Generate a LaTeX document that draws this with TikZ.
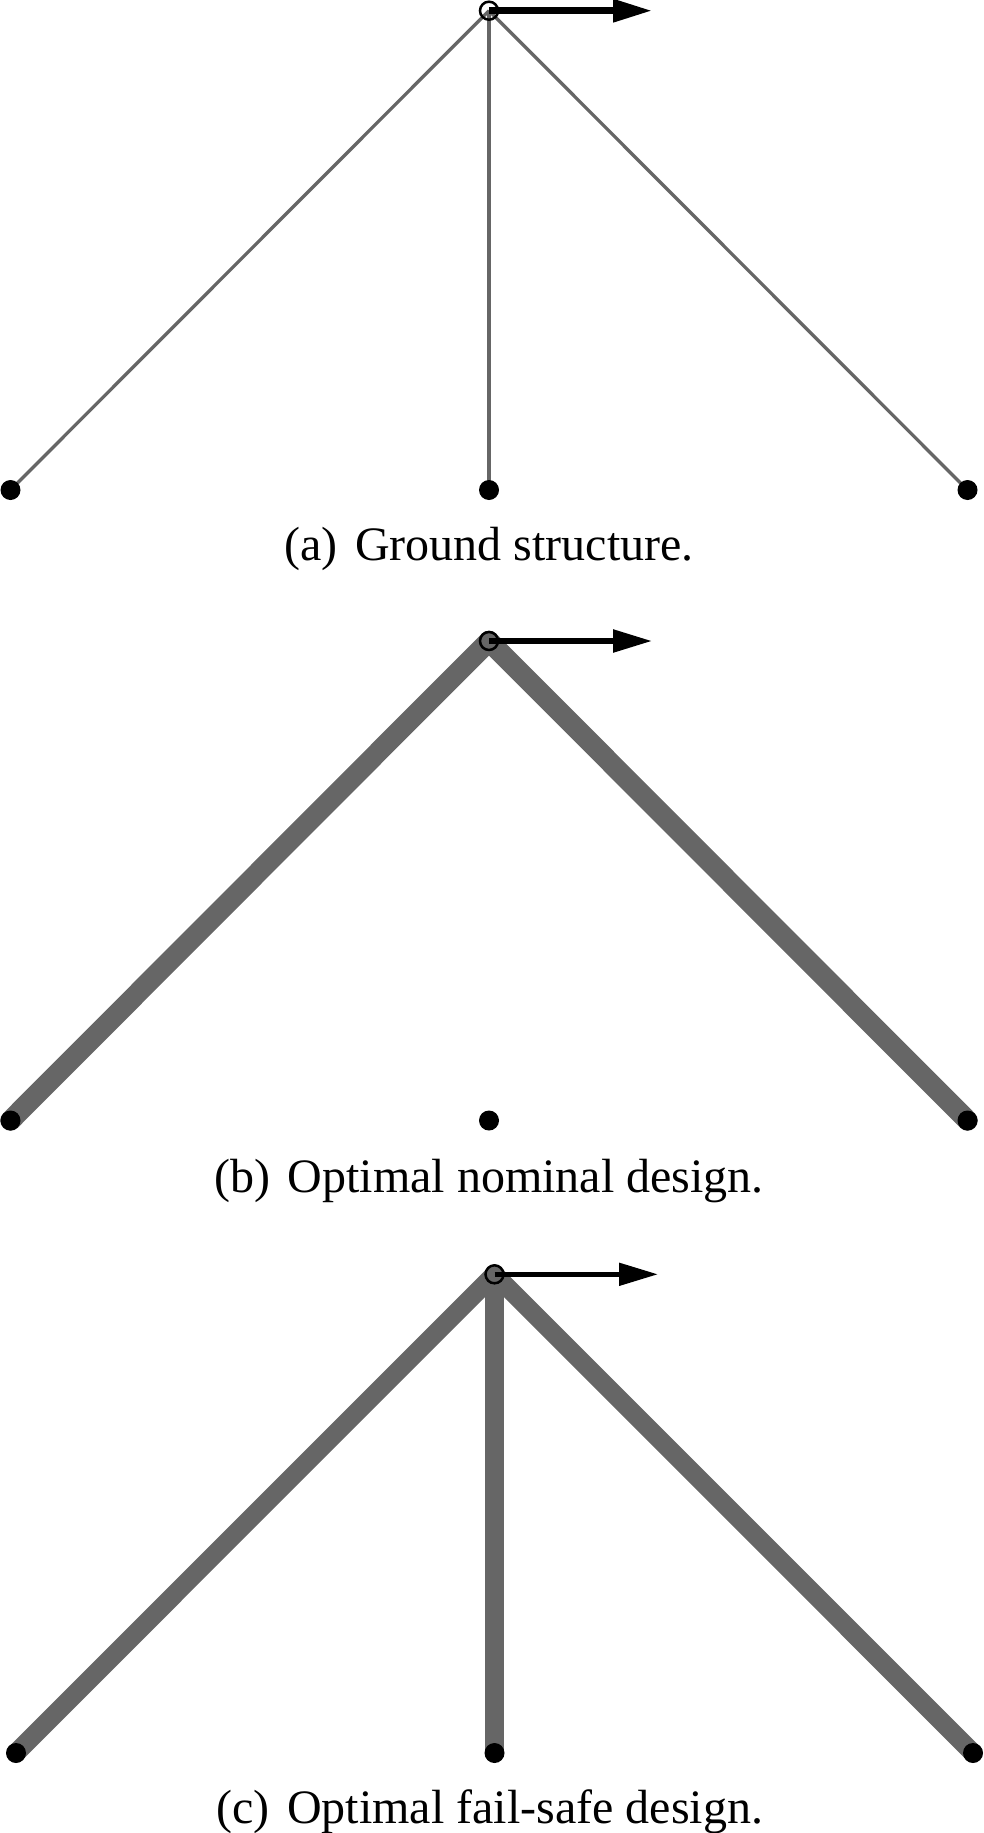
\documentclass[tikz,border=0pt]{standalone}
\usepackage{fontspec}
\setmainfont{Liberation Serif}
\usetikzlibrary{arrows.meta}
\definecolor{bargrey}{HTML}{666666}
\tikzset{
  thinbar/.style={draw=bargrey,line width=3.3pt},
  thickbarb/.style={draw=bargrey,line width=20.5pt,line cap=round},
  thickbarc/.style={draw=bargrey,line width=18.8pt,line cap=round},
  support/.style={circle,fill=black,inner sep=0pt,minimum size=20pt},
  hub/.style={circle,draw=black,line width=2.5pt,inner sep=0pt,minimum size=18pt},
  loadarrow/.style={draw=black,line width=#1,-{Triangle[length=39pt,width=22pt]}},
  captiontext/.style={anchor=base west,inner sep=0pt,font=\fontsize{48}{55}\selectfont}
}
\begin{document}
\begin{tikzpicture}[x=1pt,y=-1pt]
\useasboundingbox (0,0) rectangle (984,1833);
% panel a
\coordinate (aload) at (652,10.7);
\coordinate (a0) at (489,10.7);
\coordinate (a1) at (10.5,490);
\coordinate (a2) at (489,490);
\coordinate (a3) at (967.5,490);
\draw[thinbar] (a0) -- (a1);
\draw[thinbar] (a0) -- (a2);
\draw[thinbar] (a0) -- (a3);
\node[support] (an1) at (a1) {};
\node[support] (an2) at (a2) {};
\node[support] (an3) at (a3) {};
\draw[loadarrow=6.5pt] (a0) -- (aload);
\node[hub] (an0) at (a0) {};
\node[captiontext] (acap) at (284,560) {(a)\hspace{0.37em}Ground structure.};
% panel b
\coordinate (bload) at (652,641);
\coordinate (b0) at (489,641);
\coordinate (b1) at (10.5,1120.5);
\coordinate (b2) at (489,1120.5);
\coordinate (b3) at (967.5,1120.5);
\draw[thickbarb] (b0) -- (b1);
\draw[thickbarb] (b0) -- (b3);
\node[support] (bn1) at (b1) {};
\node[support] (bn2) at (b2) {};
\node[support] (bn3) at (b3) {};
\draw[loadarrow=5.5pt] (b0) -- (bload);
\node[hub] (bn0) at (b0) {};
\node[captiontext] (bcap) at (214,1192) {(b)\hspace{0.37em}Optimal nominal design.};
% panel c
\coordinate (cload) at (658,1274.3);
\coordinate (c0) at (494.5,1274.3);
\coordinate (c1) at (16,1753);
\coordinate (c2) at (494.5,1753);
\coordinate (c3) at (973,1753);
\draw[thickbarc] (c0) -- (c1);
\draw[thickbarc] (c0) -- (c2);
\draw[thickbarc] (c0) -- (c3);
\node[support] (cn1) at (c1) {};
\node[support] (cn2) at (c2) {};
\node[support] (cn3) at (c3) {};
\draw[loadarrow=5pt] (c0) -- (cload);
\node[hub] (cn0) at (c0) {};
\node[captiontext] (ccap) at (216,1823) {(c)\hspace{0.37em}Optimal fail-safe design.};
\end{tikzpicture}
\end{document}
